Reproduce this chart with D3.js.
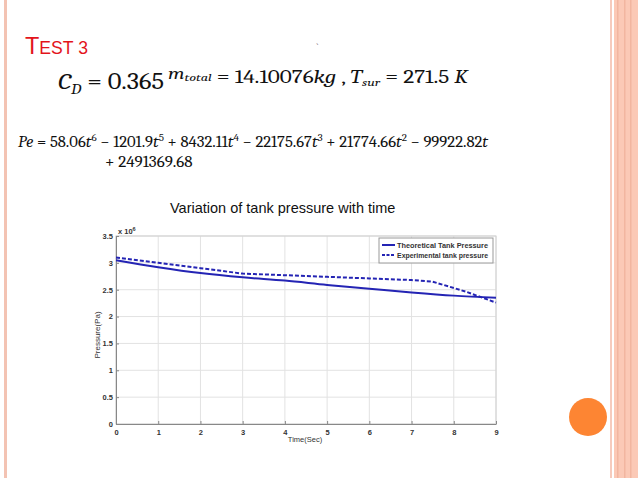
<!DOCTYPE html>
<html>
<head>
<meta charset="utf-8">
<script src="https://cdn.jsdelivr.net/npm/d3@7"></script>
<style>
  body { margin: 0; background: #fff; }
  svg { display: block; }
</style>
</head>
<body>
<div id="slide"></div>
<script>
// time (s) and pressure values (x 10^6 Pa)
const theoTime = [0, 1, 2, 3, 4, 5, 6, 7, 8, 9];
const theoPressure = [3.05, 2.92, 2.81, 2.73, 2.67, 2.59, 2.52, 2.45, 2.39, 2.35];
const expTime = [0, 1, 2, 3, 4, 5, 6, 7, 7.5, 8.3, 9];
const expPressure = [3.10, 3.00, 2.90, 2.80, 2.77, 2.74, 2.71, 2.68, 2.65, 2.46, 2.26];
const xTicks = [0, 1, 2, 3, 4, 5, 6, 7, 8, 9];
const yTicks = [0, 0.5, 1, 1.5, 2, 2.5, 3, 3.5];
const yTickLabels = ["0", "0.5", "1", "1.5", "2", "2.5", "3", "3.5"];
const seriesNames = ["Theoretical Tank Pressure", "Experimental tank pressure"];

const W = 638, H = 478;
const svg = d3.select("#slide").append("svg")
    .attr("width", W).attr("height", H);

// slide decoration
svg.append("rect").attr("x", 4).attr("y", 0).attr("width", 3).attr("height", H).attr("fill", "#f3c3b3");
svg.append("rect").attr("x", 610).attr("y", 0).attr("width", 2).attr("height", H).attr("fill", "#f6cbbd");
svg.append("rect").attr("x", 614).attr("y", 0).attr("width", 24).attr("height", H).attr("fill", "#fbc9b6");
[617, 624, 630].forEach(x => {
    svg.append("rect").attr("x", x).attr("y", 0).attr("width", 1.5).attr("height", H).attr("fill", "#f2b6a0");
});
svg.append("circle").attr("cx", 588).attr("cy", 417).attr("r", 19).attr("fill", "#fd8533");

// slide title "TEST 3"
const title = svg.append("text").attr("x", 25).attr("y", 54)
    .attr("font-family", "Liberation Sans, Arial, sans-serif").attr("fill", "#e3141b")
    .attr("textLength", 63).attr("lengthAdjust", "spacingAndGlyphs");
title.append("tspan").attr("font-size", 24).text("T");
title.append("tspan").attr("font-size", 18).text("EST 3");
svg.append("text").attr("x", 316).attr("y", 50).attr("font-size", 8).attr("fill", "#666").text("`");

// equations
const serif = "Cambria, 'Liberation Serif', 'DejaVu Serif', serif";
const eq1a = svg.append("text").attr("x", 58).attr("y", 89).attr("font-family", serif).attr("fill", "#111")
    .attr("textLength", 106).attr("lengthAdjust", "spacingAndGlyphs");
eq1a.append("tspan").attr("font-size", 23).attr("font-style", "italic").text("C");
eq1a.append("tspan").attr("font-size", 15).attr("font-style", "italic").attr("dy", 5).text("D");
eq1a.append("tspan").attr("font-size", 23).attr("dy", -5).text(" = 0.365");

const eq1b = svg.append("text").attr("x", 168).attr("y", 83).attr("font-family", serif).attr("fill", "#111")
    .attr("textLength", 300).attr("lengthAdjust", "spacingAndGlyphs");
eq1b.append("tspan").attr("font-size", 16).attr("font-style", "italic").attr("dy", -4).text("m");
eq1b.append("tspan").attr("font-size", 11).attr("font-style", "italic").attr("dy", 2).text("total");
eq1b.append("tspan").attr("font-size", 18).attr("dy", 2).text(" = 14.10076");
eq1b.append("tspan").attr("font-size", 18).attr("font-style", "italic").text("kg");
eq1b.append("tspan").attr("font-size", 18).text(" ,  ");
eq1b.append("tspan").attr("font-size", 18).attr("font-style", "italic").text("T");
eq1b.append("tspan").attr("font-size", 11).attr("font-style", "italic").attr("dy", 3).text("sur");
eq1b.append("tspan").attr("font-size", 18).attr("dy", -3).text(" = 271.5 ");
eq1b.append("tspan").attr("font-size", 18).attr("font-style", "italic").text("K");

const eq2 = svg.append("text").attr("x", 18).attr("y", 147).attr("font-family", serif)
    .attr("font-size", 16.5).attr("fill", "#111")
    .attr("textLength", 470).attr("lengthAdjust", "spacingAndGlyphs");
const terms = [[" = 58.06", "6"], [" \u2212 1201.9", "5"], [" + 8432.11", "4"],
    [" \u2212 22175.67", "3"], [" + 21774.66", "2"], [" \u2212 99922.82", ""]];
eq2.append("tspan").attr("font-style", "italic").text("Pe");
let shift = 0;
terms.forEach(([num, pow]) => {
    eq2.append("tspan").attr("dy", shift).text(num);
    eq2.append("tspan").attr("font-style", "italic").text("t");
    shift = 0;
    if (pow) {
        eq2.append("tspan").attr("font-size", 11).attr("dy", -6).text(pow);
        shift = 6;
    }
});
svg.append("text").attr("x", 105).attr("y", 167).attr("font-family", serif)
    .attr("font-size", 17).attr("fill", "#111").text("+ 2491369.68");

// chart
const x = d3.scaleLinear().domain([0, 9]).range([116, 496]);
const y = d3.scaleLinear().domain([0, 3.5]).range([424, 236]);
const font = "Liberation Sans, Arial, sans-serif";

svg.append("text").attr("x", 170).attr("y", 213).attr("font-family", font)
    .attr("font-size", 14.5).attr("fill", "#111").text("Variation of tank pressure with time");

const grid = svg.append("g").attr("stroke", "#e2e2e2").attr("stroke-width", 1);
xTicks.forEach(t => grid.append("line").attr("x1", x(t)).attr("x2", x(t)).attr("y1", y(0)).attr("y2", y(3.5)));
yTicks.forEach(t => grid.append("line").attr("x1", x(0)).attr("x2", x(9)).attr("y1", y(t)).attr("y2", y(t)));
svg.append("rect").attr("x", x(0)).attr("y", y(3.5)).attr("width", x(9) - x(0)).attr("height", y(0) - y(3.5))
    .attr("fill", "none").attr("stroke", "#d0d0d0");

const xAxis = svg.append("g").attr("transform", `translate(0,${y(0)})`)
    .call(d3.axisBottom(x).tickValues(xTicks).tickFormat(d3.format("d")).tickSizeInner(-3).tickSizeOuter(0).tickPadding(6));
const yAxis = svg.append("g").attr("transform", `translate(${x(0)},0)`)
    .call(d3.axisLeft(y).tickValues(yTicks).tickFormat((d, i) => yTickLabels[i]).tickSizeInner(-3).tickSizeOuter(0).tickPadding(3));
[xAxis, yAxis].forEach(a => {
    a.select(".domain").attr("stroke", "#888");
    a.selectAll(".tick line").attr("stroke", "#888");
    a.selectAll(".tick text").attr("font-family", font).attr("font-size", 7.5)
        .attr("font-weight", "bold").attr("fill", "#333");
});

const exp = svg.append("text").attr("x", 118).attr("y", 234).attr("font-family", font)
    .attr("font-size", 7.5).attr("font-weight", "bold").attr("fill", "#333");
exp.append("tspan").text("x 10");
exp.append("tspan").attr("font-size", 5.5).attr("dy", -3).text("6");

svg.append("text").attr("transform", "translate(100,335) rotate(-90)").attr("text-anchor", "middle")
    .attr("font-family", font).attr("font-size", 8).attr("fill", "#333").text("Pressure(Pa)");
svg.append("text").attr("x", 305).attr("y", 442).attr("text-anchor", "middle")
    .attr("font-family", font).attr("font-size", 7.5).attr("fill", "#333").text("Time(Sec)");

const lineColor = "#2424b4";
const theoLine = d3.line().x(d => x(d[0])).y(d => y(d[1])).curve(d3.curveMonotoneX);
const expLine = d3.line().x(d => x(d[0])).y(d => y(d[1]));
svg.append("path").datum(d3.zip(theoTime, theoPressure)).attr("d", theoLine)
    .attr("fill", "none").attr("stroke", lineColor).attr("stroke-width", 2);
svg.append("path").datum(d3.zip(expTime, expPressure)).attr("d", expLine)
    .attr("fill", "none").attr("stroke", lineColor).attr("stroke-width", 2).attr("stroke-dasharray", "4,2");

// legend
const lg = svg.append("g");
lg.append("rect").attr("x", 379).attr("y", 238).attr("width", 114).attr("height", 25)
    .attr("fill", "#fff").attr("stroke", "#999");
seriesNames.forEach((name, i) => {
    const ly = 245 + i * 10;
    lg.append("line").attr("x1", 382).attr("x2", 395).attr("y1", ly).attr("y2", ly)
        .attr("stroke", lineColor).attr("stroke-width", 2)
        .attr("stroke-dasharray", i === 0 ? null : "3,1.5");
    lg.append("text").attr("x", 397).attr("y", ly + 2.5).attr("font-family", font)
        .attr("font-size", 7).attr("font-weight", "bold").attr("fill", "#333")
        .attr("textLength", 91).attr("lengthAdjust", "spacingAndGlyphs").text(name);
});
</script>
</body>
</html>
